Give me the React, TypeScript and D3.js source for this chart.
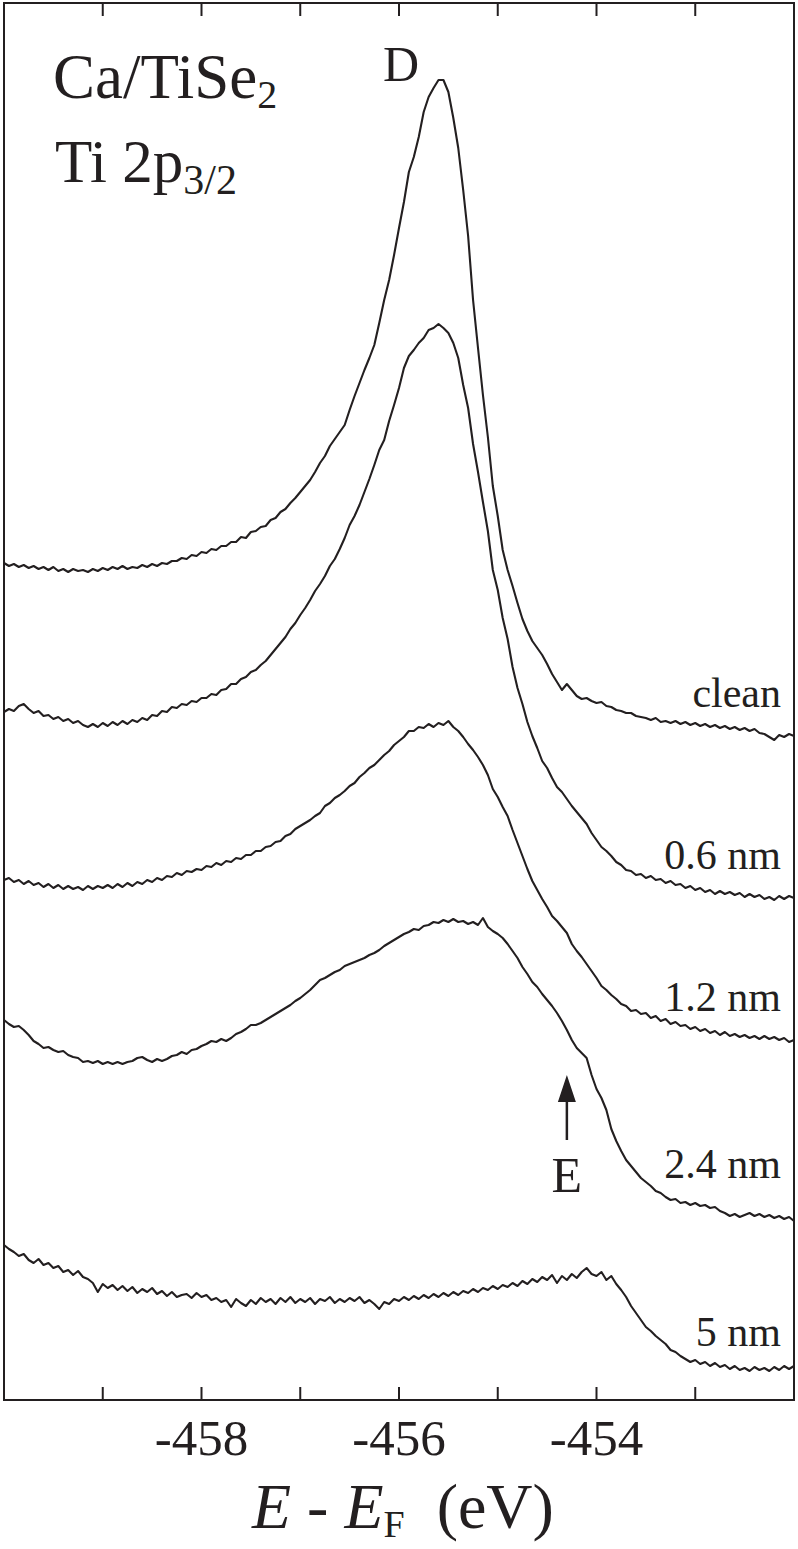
import React from 'react';
import * as d3 from 'd3';

// Binding energy grid (eV), E - E_F
const energies = [
  -460, -459.95, -459.9, -459.85, -459.8, -459.75, -459.7, -459.65, -459.6, -459.55,
  -459.5, -459.45, -459.4, -459.35, -459.3, -459.25, -459.2, -459.15, -459.1, -459.05,
  -459, -458.95, -458.9, -458.85, -458.8, -458.75, -458.7, -458.65, -458.6, -458.55,
  -458.5, -458.45, -458.4, -458.35, -458.3, -458.25, -458.2, -458.15, -458.1, -458.05,
  -458, -457.95, -457.9, -457.85, -457.8, -457.75, -457.7, -457.65, -457.6, -457.55,
  -457.5, -457.45, -457.4, -457.35, -457.3, -457.25, -457.2, -457.15, -457.1, -457.05,
  -457, -456.95, -456.9, -456.85, -456.8, -456.75, -456.7, -456.65, -456.6, -456.55,
  -456.5, -456.45, -456.4, -456.35, -456.3, -456.25, -456.2, -456.15, -456.1, -456.05,
  -456, -455.95, -455.9, -455.85, -455.8, -455.75, -455.7, -455.65, -455.6, -455.55,
  -455.5, -455.45, -455.4, -455.35, -455.3, -455.25, -455.2, -455.15, -455.1, -455.05,
  -455, -454.95, -454.9, -454.85, -454.8, -454.75, -454.7, -454.65, -454.6, -454.55,
  -454.5, -454.45, -454.4, -454.35, -454.3, -454.25, -454.2, -454.15, -454.1, -454.05,
  -454, -453.95, -453.9, -453.85, -453.8, -453.75, -453.7, -453.65, -453.6, -453.55,
  -453.5, -453.45, -453.4, -453.35, -453.3, -453.25, -453.2, -453.15, -453.1, -453.05,
  -453, -452.95, -452.9, -452.85, -452.8, -452.75, -452.7, -452.65, -452.6, -452.55,
  -452.5, -452.45, -452.4, -452.35, -452.3, -452.25, -452.2, -452.15, -452.1, -452.05,
  -452,
];

// Intensities (arb. units, vertically offset as plotted)
const cleanCounts = [
  837, 834, 836, 833, 835, 832, 834, 831, 833, 830,
  833, 829, 831, 828, 831, 829, 830, 828, 831, 829,
  832, 830, 833, 831, 834, 831, 833, 832, 835, 833,
  836, 834, 837, 836, 839, 839, 842, 841, 845, 844,
  848, 847, 851, 850, 854, 854, 858, 858, 863, 862,
  868, 869, 873, 874, 880, 882, 888, 891, 897, 902,
  908, 914, 920, 928, 937, 944, 954, 961, 968, 975,
  990, 1004, 1017, 1030, 1042, 1055, 1077, 1100, 1120, 1145,
  1172, 1198, 1228, 1243, 1263, 1288, 1303, 1312, 1320, 1320,
  1308, 1282, 1252, 1210, 1164, 1100, 1052, 1005, 963, 914,
  884, 850, 830, 814, 797, 781, 769, 759, 752, 745,
  736, 726, 718, 710, 716, 710, 704, 701, 702, 699,
  697, 698, 694, 693, 690, 689, 687, 687, 684, 683,
  682, 680, 682, 678, 679, 677, 679, 676, 678, 675,
  677, 674, 676, 673, 675, 672, 674, 671, 673, 670,
  672, 669, 671, 667, 666, 663, 660, 665, 663, 666,
  664,
];

const nm06Counts = [
  688, 691, 689, 694, 696, 691, 687, 689, 684, 685,
  681, 683, 679, 681, 677, 679, 675, 673, 676, 673,
  677, 674, 678, 675, 679, 676, 680, 678, 682, 680,
  685, 684, 689, 688, 693, 692, 696, 695, 699, 698,
  702, 702, 706, 705, 710, 711, 716, 716, 721, 723,
  728, 730, 735, 739, 745, 751, 757, 763, 771, 777,
  785, 792, 800, 809, 816, 824, 834, 841, 851, 862,
  875, 884, 895, 908, 921, 935, 950, 960, 979, 995,
  1012, 1032, 1044, 1050, 1057, 1062, 1070, 1072, 1076, 1072,
  1067, 1057, 1042, 1015, 992, 956, 928, 898, 869, 830,
  810, 782, 761, 733, 712, 696, 678, 664, 652, 639,
  632, 622, 613, 608, 601, 594, 588, 582, 576, 567,
  560, 553, 549, 544, 538, 535, 530, 529, 525, 526,
  522, 524, 520, 521, 517, 519, 515, 516, 512, 514,
  510, 512, 508, 510, 506, 509, 506, 508, 505, 507,
  503, 506, 503, 505, 501, 503, 500, 504, 501, 504,
  502,
];

const nm12Counts = [
  520, 522, 518, 520, 516, 519, 515, 517, 513, 516,
  512, 515, 511, 514, 511, 513, 510, 514, 511, 514,
  512, 515, 512, 516, 513, 517, 514, 518, 516, 520,
  518, 522, 520, 524, 523, 527, 525, 529, 528, 531,
  530, 534, 533, 537, 535, 539, 538, 542, 541, 545,
  545, 549, 549, 553, 554, 558, 559, 564, 566, 571,
  574, 577, 580, 584, 587, 594, 597, 602, 605, 609,
  614, 617, 623, 627, 632, 635, 640, 645, 649, 655,
  659, 663, 669, 669, 673, 672, 676, 673, 677, 675,
  679, 673, 669, 663, 656, 650, 643, 635, 625, 611,
  603, 593, 584, 570, 557, 544, 531, 519, 510, 501,
  493, 484, 479, 473, 467, 456, 449, 443, 436, 429,
  422, 414, 410, 405, 401, 396, 394, 389, 390, 386,
  387, 382, 384, 379, 381, 376, 378, 374, 375, 371,
  373, 369, 371, 367, 369, 365, 368, 364, 366, 363,
  365, 362, 364, 361, 364, 361, 363, 360, 362, 358,
  360,
];

const nm24Counts = [
  380, 376, 373, 374, 370, 365, 359, 356, 352, 353,
  350, 348, 349, 345, 343, 342, 338, 339, 337, 339,
  336, 338, 336, 338, 336, 338, 339, 342, 343, 340,
  338, 341, 339, 341, 344, 345, 348, 346, 350, 351,
  354, 356, 359, 358, 361, 359, 362, 366, 368, 371,
  375, 375, 377, 380, 383, 386, 389, 392, 395, 399,
  402, 406, 410, 415, 420, 422, 425, 428, 430, 434,
  436, 438, 440, 442, 445, 447, 450, 454, 457, 460,
  463, 466, 468, 471, 470, 474, 475, 478, 477, 480,
  478, 481, 478, 479, 476, 478, 475, 482, 473, 469,
  466, 462, 456, 449, 442, 433, 426, 418, 413, 406,
  400, 394, 387, 379, 370, 360, 352, 347, 342, 325,
  311, 302, 290, 271, 259, 249, 240, 234, 228, 222,
  218, 214, 209, 207, 203, 200, 201, 197, 198, 195,
  197, 194, 195, 192, 193, 189, 187, 184, 186, 183,
  185, 187, 184, 186, 183, 185, 182, 184, 181, 183,
  179,
];

const nm50Counts = [
  155, 151, 148, 144, 146, 140, 137, 141, 135, 137,
  132, 134, 128, 130, 125, 129, 123, 121, 117, 108,
  116, 112, 115, 110, 114, 109, 113, 107, 111, 108,
  112, 106, 109, 104, 108, 103, 105, 106, 102, 107,
  103, 105, 100, 102, 98, 100, 93, 101, 97, 94,
  100, 96, 102, 98, 101, 96, 102, 98, 103, 97,
  101, 98, 102, 96, 101, 99, 103, 97, 101, 98,
  102, 99, 103, 97, 100, 96, 91, 98, 96, 101,
  99, 103, 100, 104, 101, 105, 102, 106, 103, 107,
  104, 108, 105, 109, 107, 111, 108, 112, 110, 114,
  111, 115, 113, 117, 114, 119, 116, 121, 118, 123,
  120, 125, 117, 124, 120, 126, 122, 128, 132, 126,
  124, 128, 120, 124, 116, 110, 103, 94, 87, 80,
  73, 69, 64, 60, 56, 50, 48, 44, 41, 38,
  40, 36, 38, 34, 37, 33, 35, 31, 34, 30,
  32, 29, 33, 30, 32, 29, 33, 30, 34, 31,
  34,
];

const seriesLabels = ['clean', '0.6 nm', '1.2 nm', '2.4 nm', '5 nm'];
// label anchor heights in intensity units
const labelLevels = [693, 531, 389, 222, 54];

const tickValues = [-459, -458, -457, -456, -455, -454, -453];
const labeledTicks = [-458, -456, -454];

// annotation positions (data units)
const peakD = { e: -455.98, v: 1319 };
const arrowE = { e: -454.3, vTop: 325, vBottom: 260 };

const W = 798;
const H = 1549;
const FONT = "'Liberation Serif', 'Times New Roman', Times, serif";
const INK = '#231f20';

export default function App() {
  const x = d3.scaleLinear().domain([-460, -452]).range([4, 794]);
  const y = d3.scaleLinear().domain([0, 1397]).range([1400, 3]);

  const line = d3
    .line<number>()
    .x((_, i) => x(energies[i]))
    .y((d) => y(d));

  const series = [cleanCounts, nm06Counts, nm12Counts, nm24Counts, nm50Counts];

  const [x0, x1] = x.range();
  const [yb, yt] = y.range();
  const tickLen = 13;

  const ax = x(arrowE.e);
  const aTop = y(arrowE.vTop);
  const aBot = y(arrowE.vBottom);

  return (
    <div style={{ position: 'absolute', left: 0, top: 0 }}>
      <svg width={W} height={H} style={{ display: 'block', background: '#fff' }}>
        <rect x={x0} y={yt} width={x1 - x0} height={yb - yt} fill="none" stroke={INK} strokeWidth={2} />
        {tickValues.map((t) => (
          <g key={t}>
            <line x1={x(t)} x2={x(t)} y1={yb} y2={yb - tickLen} stroke={INK} strokeWidth={2} />
            <line x1={x(t)} x2={x(t)} y1={yt} y2={yt + tickLen} stroke={INK} strokeWidth={2} />
          </g>
        ))}
        {labeledTicks.map((t) => (
          <text key={t} x={x(t)} y={1455} textAnchor="middle" fontFamily={FONT} fontSize={51} fill={INK}>
            {String(t)}
          </text>
        ))}
        {series.map((s, i) => (
          <path key={i} d={line(s) || ''} fill="none" stroke={INK} strokeWidth={2.1} strokeLinejoin="round" />
        ))}
        {seriesLabels.map((lab, i) => (
          <text key={lab} x={781} y={y(labelLevels[i])} textAnchor="end" fontFamily={FONT} fontSize={42} fill={INK}>
            {lab}
          </text>
        ))}
        <text x={x(peakD.e)} y={y(peakD.v)} textAnchor="middle" fontFamily={FONT} fontSize={50} fill={INK}>
          D
        </text>
        <line x1={ax} x2={ax} y1={aBot} y2={aTop + 20} stroke={INK} strokeWidth={2.5} />
        <path d={`M${ax},${aTop} L${ax - 9},${aTop + 27} L${ax + 9},${aTop + 27} Z`} fill={INK} />
        <text x={ax} y={1192} textAnchor="middle" fontFamily={FONT} fontSize={50} fill={INK}>
          E
        </text>
        <text x={53} y={98} fontFamily={FONT} fontSize={63} fill={INK}>
          <tspan>Ca/TiSe</tspan>
          <tspan fontSize={40} dy={10}>2</tspan>
        </text>
        <text x={55} y={182} fontFamily={FONT} fontSize={61} fill={INK}>
          <tspan>Ti 2p</tspan>
          <tspan fontSize={42} dy={12}>3/2</tspan>
        </text>
        <text x={252} y={1528} fontFamily={FONT} fontSize={64} fill={INK} style={{ whiteSpace: 'pre' }}>
          <tspan fontStyle="italic">E</tspan>
          <tspan>{' - '}</tspan>
          <tspan fontStyle="italic">E</tspan>
          <tspan fontSize={38} dy={9}>F</tspan>
          <tspan dy={-9}>{'  (eV)'}</tspan>
        </text>
      </svg>
    </div>
  );
}
